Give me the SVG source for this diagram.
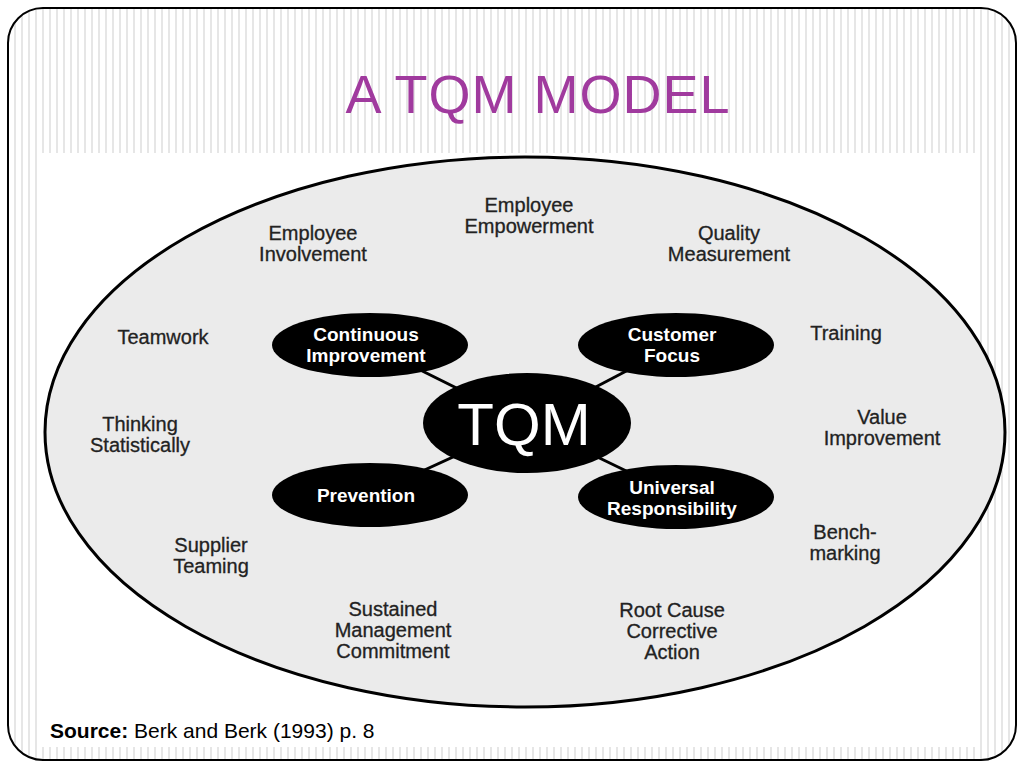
<svg xmlns="http://www.w3.org/2000/svg" width="1024" height="768" viewBox="0 0 1024 768">
<defs>
<pattern id="stripes" width="7" height="10" patternUnits="userSpaceOnUse"><rect x="0" y="0" width="2" height="10" fill="#e6e6e6"/></pattern>
<style>
.lbl{font-family:"Liberation Sans",Arial,sans-serif;font-size:20px;fill:#222;text-anchor:middle;stroke:#222;stroke-width:0.3}
.in{font-family:"Liberation Sans",Arial,sans-serif;font-size:19px;font-weight:bold;fill:#fff;text-anchor:middle}
.blk{fill:#000}
</style>
</defs>
<rect width="1024" height="768" fill="#fff"/>
<rect x="8" y="8" width="1008" height="752" rx="35" fill="url(#stripes)" stroke="#000" stroke-width="2"/>
<rect x="40" y="153" width="940" height="594" fill="#fff"/>
<text x="538" y="113" font-family="Liberation Sans,Arial,sans-serif" font-size="54" letter-spacing="1" fill="#a03a9e" text-anchor="middle">A TQM MODEL</text>
<ellipse id="outer" cx="525" cy="432" rx="480" ry="275" fill="#ebebeb" stroke="#000" stroke-width="3"/>
<g id="connectors" stroke="#000" stroke-width="3">
<line x1="527" y1="423" x2="370" y2="345"/>
<line x1="527" y1="423" x2="676" y2="345"/>
<line x1="527" y1="423" x2="370" y2="495"/>
<line x1="527" y1="423" x2="676" y2="495"/>
</g>
<g id="tqm"><ellipse class="blk" cx="527" cy="423" rx="104" ry="50"/><text x="524" y="445" font-family="Liberation Sans,Arial,sans-serif" font-size="60" fill="#fff" text-anchor="middle">TQM</text></g>
<g id="ci"><ellipse class="blk" cx="370" cy="345" rx="98" ry="32"/><text class="in" x="366" y="341">Continuous</text><text class="in" x="366" y="362">Improvement</text></g>
<g id="cf"><ellipse class="blk" cx="676" cy="345" rx="98" ry="32"/><text class="in" x="672" y="341">Customer</text><text class="in" x="672" y="362">Focus</text></g>
<g id="pr"><ellipse class="blk" cx="370" cy="495" rx="98" ry="32"/><text class="in" x="366" y="502">Prevention</text></g>
<g id="ur"><ellipse class="blk" cx="676" cy="497" rx="98" ry="32"/><text class="in" x="672" y="494">Universal</text><text class="in" x="672" y="515">Responsibility</text></g>
<g id="ei"><text class="lbl" x="313" y="240">Employee</text><text class="lbl" x="313" y="261">Involvement</text></g>
<g id="ee"><text class="lbl" x="529" y="212">Employee</text><text class="lbl" x="529" y="233">Empowerment</text></g>
<g id="qm"><text class="lbl" x="729" y="240">Quality</text><text class="lbl" x="729" y="261">Measurement</text></g>
<g id="tw"><text class="lbl" x="163" y="344">Teamwork</text></g>
<g id="tr"><text class="lbl" x="846" y="340">Training</text></g>
<g id="ts"><text class="lbl" x="140" y="431">Thinking</text><text class="lbl" x="140" y="452">Statistically</text></g>
<g id="vi"><text class="lbl" x="882" y="424">Value</text><text class="lbl" x="882" y="445">Improvement</text></g>
<g id="st"><text class="lbl" x="211" y="552">Supplier</text><text class="lbl" x="211" y="573">Teaming</text></g>
<g id="bm"><text class="lbl" x="845" y="539">Bench-</text><text class="lbl" x="845" y="560">marking</text></g>
<g id="smc"><text class="lbl" x="393" y="616">Sustained</text><text class="lbl" x="393" y="637">Management</text><text class="lbl" x="393" y="658">Commitment</text></g>
<g id="rc"><text class="lbl" x="672" y="617">Root Cause</text><text class="lbl" x="672" y="638">Corrective</text><text class="lbl" x="672" y="659">Action</text></g>
<text x="50" y="738" font-family="Liberation Sans,Arial,sans-serif" font-size="21" fill="#000"><tspan font-weight="bold">Source:</tspan> Berk and Berk (1993) p. 8</text>
</svg>
